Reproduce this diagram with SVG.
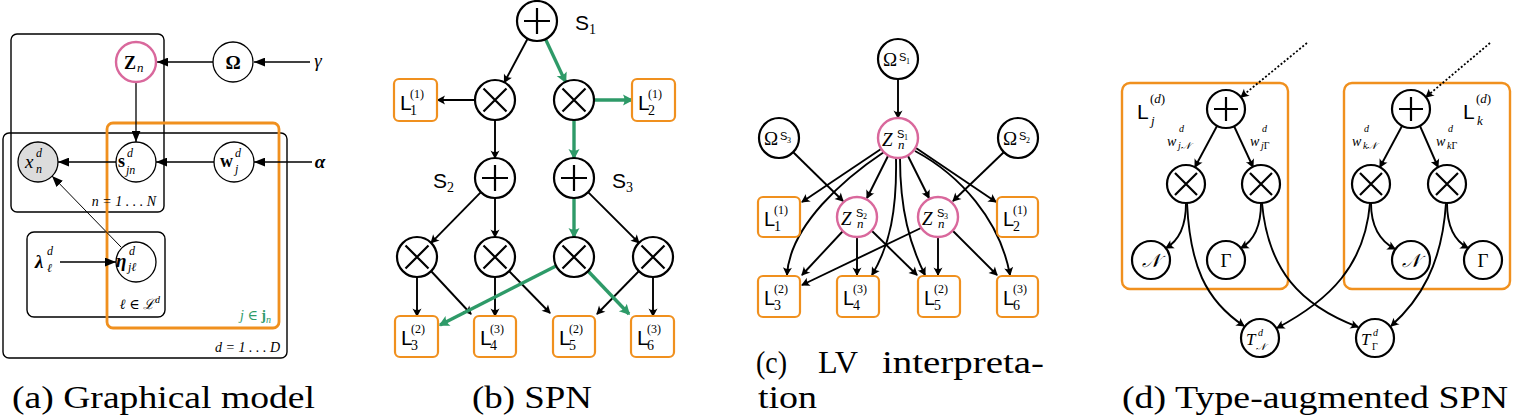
<svg xmlns="http://www.w3.org/2000/svg" xmlns:xlink="http://www.w3.org/1999/xlink" width="1513" height="418" viewBox="0 0 1513 418">
<style>
.pl{fill:none;stroke:#000;stroke-width:1.4}
.ca{fill:#fff;stroke:#000;stroke-width:1.3}
.ea{fill:none;stroke:#000;stroke-width:1.3}
.nd{fill:#fff;stroke:#000;stroke-width:2.2}
.zp{fill:#fff;stroke:#d9689c;stroke-width:2.4}
.lf{fill:#fff;stroke:#f0901e;stroke-width:2.2}
.sym{stroke:#000;stroke-width:2.2;fill:none}
.eb{fill:none;stroke:#000;stroke-width:1.9}
.eg{fill:none;stroke:#2e9a68;stroke-width:3.4}
.it{font-style:italic}
.bd{font-weight:bold}
</style>
<defs>
<marker id="ta" viewBox="0 0 10 8" refX="10" refY="4" markerWidth="11" markerHeight="9" markerUnits="userSpaceOnUse" orient="auto"><path d="M0,0 L10,4 L0,8 z" fill="#000"/></marker>
<marker id="tb" viewBox="-10 -6 12 12" refX="0" refY="0" markerWidth="12" markerHeight="12" markerUnits="userSpaceOnUse" orient="auto"><path d="M1,0 L-7.5,-4.5 Q-4.5,0 -7.5,4.5 z" fill="#000"/></marker>
<marker id="tg" viewBox="-12 -7 14 14" refX="0" refY="0" markerWidth="14" markerHeight="14" markerUnits="userSpaceOnUse" orient="auto"><path d="M1.5,0 L-9,-5.5 Q-6,0 -9,5.5 z" fill="#2e9a68"/></marker>
<g id="sumSym"><circle r="20" class="nd"/><path class="sym" d="M-13,0 H13 M0,-13 V13"/></g>
<g id="prodSym"><circle r="20" class="nd"/><path class="sym" d="M-11.5,-11.5 L11.5,11.5 M11.5,-11.5 L-11.5,11.5"/></g>
<g id="sumSymD"><circle r="19" class="nd"/><path class="sym" d="M-12,0 H12 M0,-12 V12"/></g>
<g id="prodSymD"><circle r="19" class="nd"/><path class="sym" d="M-11,-11 L11,11 M11,-11 L-11,11"/></g>
</defs>

<g font-family="Liberation Serif, DejaVu Serif, serif">
<!-- ================= (a) Graphical model ================= -->
<g id="a-plates">
<rect class="pl" x="11" y="34" width="153" height="178" rx="6"/>
<rect class="pl" x="3" y="133" width="284" height="225" rx="6"/>
<rect class="pl" x="27" y="232" width="138" height="85" rx="7"/>
<rect x="107" y="123" width="172" height="205" rx="6" fill="none" stroke="#f0901e" stroke-width="2.8"/>
<text class="it" x="156" y="206" font-size="14" text-anchor="end">n = 1 . . . N</text>
<text class="it" x="160" y="309" font-size="14" text-anchor="end">ℓ ∈ ℒ<tspan font-size="10" dy="-6">d</tspan></text>
<text class="it" x="271" y="320" font-size="14" text-anchor="end" fill="#2e9a68">j ∈ <tspan font-weight="bold" font-style="normal">j</tspan><tspan font-size="10" dy="3">n</tspan></text>
<text class="it" x="280" y="352" font-size="14" text-anchor="end">d = 1 . . . D</text>
</g>
<g id="a-edges">
<line class="ea" x1="213" y1="62" x2="157" y2="62" marker-end="url(#ta)"/>
<line class="ea" x1="310" y1="62" x2="254" y2="62" marker-end="url(#ta)"/>
<line class="ea" x1="136" y1="82" x2="136" y2="142" marker-end="url(#ta)"/>
<line class="ea" x1="116" y1="162" x2="58" y2="162" marker-end="url(#ta)"/>
<line class="ea" x1="214" y1="162" x2="156" y2="162" marker-end="url(#ta)"/>
<line class="ea" x1="312" y1="162" x2="254" y2="162" marker-end="url(#ta)"/>
<line class="ea" x1="60" y1="262" x2="116" y2="262" marker-end="url(#ta)"/>
<line x1="121" y1="247" x2="52" y2="176" stroke="#000" stroke-width="1" marker-end="url(#ta)"/>
</g>
<g id="a-Zn"><circle cx="136" cy="62" r="20" class="zp"/><text class="bd" x="124" y="69" font-size="18">Z</text><text class="it" x="137" y="72" font-size="13">n</text></g>
<g id="a-Omega"><circle cx="233" cy="62" r="20" class="ca"/><text class="bd" x="233" y="69" font-size="19" text-anchor="middle">Ω</text></g>
<g id="a-gamma"><text class="it" x="318" y="67" font-size="19" text-anchor="middle">γ</text></g>
<g id="a-xn"><circle cx="38" cy="162" r="20" fill="#dcdcdc" stroke="#000" stroke-width="1.3"/><text class="it" x="25" y="168" font-size="19">x</text><text class="it" x="36" y="157" font-size="12">d</text><text class="it" x="36" y="173" font-size="12">n</text></g>
<g id="a-s"><circle cx="136" cy="162" r="20" class="ca"/><text class="bd" x="118" y="167" font-size="18">s</text><text class="it" x="127" y="157" font-size="12">d</text><text class="it" x="126" y="174" font-size="12">jn</text></g>
<g id="a-w"><circle cx="234" cy="162" r="20" class="ca"/><text class="bd" x="220" y="167" font-size="18">w</text><text class="it" x="235" y="157" font-size="12">d</text><text class="it" x="235" y="173" font-size="12">j</text></g>
<g id="a-alpha"><text class="bd it" x="320" y="168" font-size="19" text-anchor="middle">α</text></g>
<g id="a-eta"><circle cx="136" cy="262" r="20" class="ca"/><text class="bd it" x="116" y="267" font-size="19">η</text><text class="it" x="129" y="255" font-size="12">d</text><text class="it" x="128" y="271" font-size="12">jℓ</text></g>
<g id="a-lambda"><text class="bd it" x="35" y="268" font-size="19">λ</text><text class="it" x="47" y="255" font-size="12">d</text><text class="it" x="47" y="272" font-size="12">ℓ</text></g>
<text x="12" y="408" font-size="32" textLength="303" lengthAdjust="spacingAndGlyphs">(a) Graphical model</text>

<!-- ================= (b) SPN ================= -->
<g id="b-edges">
<line class="eb" x1="527.6" y1="38.7" x2="504.4" y2="82.3" marker-end="url(#tb)"/>
<line class="eb" x1="475" y1="100" x2="437.5" y2="100" marker-end="url(#tb)"/>
<line class="eb" x1="495" y1="120" x2="495" y2="158" marker-end="url(#tb)"/>
<line class="eb" x1="480.9" y1="192.2" x2="431.1" y2="242.8" marker-end="url(#tb)"/>
<line class="eb" x1="495" y1="198" x2="495" y2="237" marker-end="url(#tb)"/>
<line class="eb" x1="588.1" y1="192.2" x2="638.9" y2="242.8" marker-end="url(#tb)"/>
<line class="eb" x1="417" y1="277" x2="417" y2="316" marker-end="url(#tb)"/>
<line class="eb" x1="431" y1="271" x2="471" y2="314" marker-end="url(#tb)"/>
<line class="eb" x1="495" y1="277" x2="495" y2="316" marker-end="url(#tb)"/>
<line class="eb" x1="509" y1="271" x2="550" y2="313" marker-end="url(#tb)"/>
<line class="eb" x1="639" y1="271" x2="597" y2="314" marker-end="url(#tb)"/>
<line class="eb" x1="653" y1="277" x2="653" y2="316" marker-end="url(#tb)"/>
<line class="eg" x1="545.5" y1="39.1" x2="565.5" y2="81.9" marker-end="url(#tg)"/>
<line class="eg" x1="594" y1="100" x2="632" y2="100" marker-end="url(#tg)"/>
<line class="eg" x1="574" y1="120" x2="574" y2="158" marker-end="url(#tg)"/>
<line class="eg" x1="574" y1="198" x2="574" y2="237" marker-end="url(#tg)"/>
<line class="eg" x1="556" y1="266" x2="440" y2="325" marker-end="url(#tg)"/>
<line class="eg" x1="588" y1="271" x2="629" y2="314" marker-end="url(#tg)"/>
</g>
<g id="b-S1"><use xlink:href="#sumSym" x="537" y="21"/><text font-family="Liberation Sans, DejaVu Sans, sans-serif" x="575" y="30" font-size="21">S</text><text x="589" y="34" font-size="14">1</text></g>
<g id="b-P1"><use xlink:href="#prodSym" x="495" y="100"/></g>
<g id="b-P2"><use xlink:href="#prodSym" x="574" y="100"/></g>
<g id="b-S2"><use xlink:href="#sumSym" x="495" y="178"/><text font-family="Liberation Sans, DejaVu Sans, sans-serif" x="433" y="188" font-size="21">S</text><text x="447" y="192" font-size="14">2</text></g>
<g id="b-S3"><use xlink:href="#sumSym" x="574" y="178"/><text font-family="Liberation Sans, DejaVu Sans, sans-serif" x="612" y="188" font-size="21">S</text><text x="626" y="192" font-size="14">3</text></g>
<g id="b-Q1"><use xlink:href="#prodSym" x="417" y="257"/></g>
<g id="b-Q2"><use xlink:href="#prodSym" x="495" y="257"/></g>
<g id="b-Q3"><use xlink:href="#prodSym" x="574" y="257"/></g>
<g id="b-Q4"><use xlink:href="#prodSym" x="653" y="257"/></g>
<g id="b-L1"><rect class="lf" x="394" y="79" width="43" height="42" rx="5"/><text font-family="Liberation Sans, DejaVu Sans, sans-serif" x="400" y="110" font-size="21">L</text><text x="410" y="115" font-size="14">1</text><text x="410" y="98" font-size="12">(1)</text></g>
<g id="b-L2"><rect class="lf" x="632" y="79" width="43" height="42" rx="5"/><text font-family="Liberation Sans, DejaVu Sans, sans-serif" x="638" y="110" font-size="21">L</text><text x="648" y="115" font-size="14">2</text><text x="648" y="98" font-size="12">(1)</text></g>
<g id="b-L3"><rect class="lf" x="395" y="316" width="43" height="41" rx="5"/><text font-family="Liberation Sans, DejaVu Sans, sans-serif" x="401" y="345" font-size="21">L</text><text x="411" y="350" font-size="14">3</text><text x="411" y="333" font-size="12">(2)</text></g>
<g id="b-L4"><rect class="lf" x="474" y="316" width="42" height="41" rx="5"/><text font-family="Liberation Sans, DejaVu Sans, sans-serif" x="480" y="345" font-size="21">L</text><text x="490" y="350" font-size="14">4</text><text x="490" y="333" font-size="12">(3)</text></g>
<g id="b-L5"><rect class="lf" x="553" y="316" width="42" height="41" rx="5"/><text font-family="Liberation Sans, DejaVu Sans, sans-serif" x="559" y="345" font-size="21">L</text><text x="569" y="350" font-size="14">5</text><text x="569" y="333" font-size="12">(2)</text></g>
<g id="b-L6"><rect class="lf" x="631" y="316" width="43" height="41" rx="5"/><text font-family="Liberation Sans, DejaVu Sans, sans-serif" x="637" y="345" font-size="21">L</text><text x="647" y="350" font-size="14">6</text><text x="647" y="333" font-size="12">(3)</text></g>
<text x="472" y="408" font-size="32" textLength="120" lengthAdjust="spacingAndGlyphs">(b) SPN</text>

<!-- ================= (c) LV interpretation ================= -->
<g id="c-edges">
<line class="eb" x1="898" y1="79" x2="898" y2="118" marker-end="url(#tb)"/>
<line class="eb" x1="793" y1="152" x2="843" y2="201" marker-end="url(#tb)"/>
<line class="eb" x1="1004" y1="152" x2="953" y2="201" marker-end="url(#tb)"/>
<line class="eb" x1="881" y1="149" x2="802" y2="202" marker-end="url(#tb)"/>
<path class="eb" d="M884,152 C845,178 790,225 787,275" marker-end="url(#tb)"/>
<line class="eb" x1="888" y1="156" x2="867" y2="198" marker-end="url(#tb)"/>
<path class="eb" d="M896,158 C897,210 890,245 872,275" marker-end="url(#tb)"/>
<path class="eb" d="M900,158 C900,210 910,245 925,275" marker-end="url(#tb)"/>
<line class="eb" x1="908" y1="156" x2="929" y2="198" marker-end="url(#tb)"/>
<line class="eb" x1="916" y1="148" x2="996" y2="202" marker-end="url(#tb)"/>
<path class="eb" d="M915,151 C960,175 1000,220 1010,275" marker-end="url(#tb)"/>
<line class="eb" x1="843" y1="231" x2="802" y2="275" marker-end="url(#tb)"/>
<line class="eb" x1="857" y1="237" x2="857" y2="275" marker-end="url(#tb)"/>
<line class="eb" x1="872" y1="231" x2="917" y2="275" marker-end="url(#tb)"/>
<line class="eb" x1="921" y1="228" x2="802" y2="285" marker-end="url(#tb)"/>
<line class="eb" x1="938" y1="237" x2="938" y2="275" marker-end="url(#tb)"/>
<line class="eb" x1="953" y1="231" x2="997" y2="275" marker-end="url(#tb)"/>
</g>
<g id="c-OmS1"><circle cx="898" cy="59" r="20" class="nd"/><text x="883" y="66" font-size="19">Ω</text><text font-family="Liberation Sans, DejaVu Sans, sans-serif" x="899" y="61" font-size="11">S</text><text x="906" y="64" font-size="8">1</text></g>
<g id="c-OmS3"><circle cx="779" cy="138" r="20" class="nd"/><text x="764" y="145" font-size="19">Ω</text><text font-family="Liberation Sans, DejaVu Sans, sans-serif" x="780" y="140" font-size="11">S</text><text x="787" y="143" font-size="8">3</text></g>
<g id="c-OmS2"><circle cx="1018" cy="138" r="20" class="nd"/><text x="1003" y="145" font-size="19">Ω</text><text font-family="Liberation Sans, DejaVu Sans, sans-serif" x="1019" y="140" font-size="11">S</text><text x="1026" y="143" font-size="8">2</text></g>
<g id="c-ZS1"><circle cx="898" cy="138" r="20" class="zp"/><text class="it" x="882" y="146" font-size="19">Z</text><text font-family="Liberation Sans, DejaVu Sans, sans-serif" x="897" y="138" font-size="11">S</text><text x="904" y="140" font-size="8">1</text><text class="it" x="898" y="149" font-size="13">n</text></g>
<g id="c-ZS2"><circle cx="857" cy="217" r="20" class="zp"/><text class="it" x="841" y="225" font-size="19">Z</text><text font-family="Liberation Sans, DejaVu Sans, sans-serif" x="856" y="217" font-size="11">S</text><text x="863" y="219" font-size="8">2</text><text class="it" x="857" y="228" font-size="13">n</text></g>
<g id="c-ZS3"><circle cx="938" cy="217" r="20" class="zp"/><text class="it" x="922" y="225" font-size="19">Z</text><text font-family="Liberation Sans, DejaVu Sans, sans-serif" x="937" y="217" font-size="11">S</text><text x="944" y="219" font-size="8">3</text><text class="it" x="938" y="228" font-size="13">n</text></g>
<g id="c-L1"><rect class="lf" x="758" y="197" width="42" height="40" rx="5"/><text font-family="Liberation Sans, DejaVu Sans, sans-serif" x="764" y="226" font-size="20">L</text><text x="774" y="231" font-size="14">1</text><text x="774" y="214" font-size="12">(1)</text></g>
<g id="c-L2"><rect class="lf" x="997" y="197" width="41" height="40" rx="5"/><text font-family="Liberation Sans, DejaVu Sans, sans-serif" x="1003" y="226" font-size="20">L</text><text x="1013" y="231" font-size="14">2</text><text x="1013" y="214" font-size="12">(1)</text></g>
<g id="c-L3"><rect class="lf" x="758" y="276" width="42" height="41" rx="5"/><text font-family="Liberation Sans, DejaVu Sans, sans-serif" x="764" y="305" font-size="20">L</text><text x="774" y="310" font-size="14">3</text><text x="774" y="293" font-size="12">(2)</text></g>
<g id="c-L4"><rect class="lf" x="837" y="276" width="42" height="41" rx="5"/><text font-family="Liberation Sans, DejaVu Sans, sans-serif" x="843" y="305" font-size="20">L</text><text x="853" y="310" font-size="14">4</text><text x="853" y="293" font-size="12">(3)</text></g>
<g id="c-L5"><rect class="lf" x="918" y="276" width="42" height="41" rx="5"/><text font-family="Liberation Sans, DejaVu Sans, sans-serif" x="924" y="305" font-size="20">L</text><text x="934" y="310" font-size="14">5</text><text x="934" y="293" font-size="12">(2)</text></g>
<g id="c-L6"><rect class="lf" x="997" y="276" width="41" height="41" rx="5"/><text font-family="Liberation Sans, DejaVu Sans, sans-serif" x="1003" y="305" font-size="20">L</text><text x="1013" y="310" font-size="14">6</text><text x="1013" y="293" font-size="12">(3)</text></g>
<text x="756" y="373" font-size="32" textLength="31" lengthAdjust="spacingAndGlyphs">(c)</text>
<text x="818" y="373" font-size="32" textLength="40" lengthAdjust="spacingAndGlyphs">LV</text>
<text x="882" y="373" font-size="32" textLength="162" lengthAdjust="spacingAndGlyphs">interpreta-</text>
<text x="758" y="408" font-size="32" textLength="59" lengthAdjust="spacingAndGlyphs">tion</text>

<!-- ================= (d) Type-augmented SPN ================= -->
<g id="d-boxes">
<rect x="1122" y="83" width="166" height="206" rx="8" fill="none" stroke="#f0901e" stroke-width="2.4"/>
<rect x="1344" y="83" width="166" height="206" rx="8" fill="none" stroke="#f0901e" stroke-width="2.4"/>
</g>
<g id="d-edges">
<line x1="1307" y1="43" x2="1241" y2="97" stroke="#000" stroke-width="1.8" stroke-dasharray="2,2" marker-end="url(#tb)"/>
<line x1="1490" y1="43" x2="1426" y2="97" stroke="#000" stroke-width="1.8" stroke-dasharray="2,2" marker-end="url(#tb)"/>
<line class="eb" x1="1217" y1="126" x2="1195" y2="167" marker-end="url(#tb)"/>
<line class="eb" x1="1234" y1="126" x2="1253" y2="167" marker-end="url(#tb)"/>
<path class="eb" d="M1186,203 C1186,225 1180,240 1166,248" marker-end="url(#tb)"/>
<path class="eb" d="M1261,203 C1261,225 1255,240 1241,248" marker-end="url(#tb)"/>
<path class="eb" d="M1187,203 C1190,265 1205,300 1244,326" marker-end="url(#tb)"/>
<path class="eb" d="M1262,203 C1268,270 1300,305 1358,327" marker-end="url(#tb)"/>
<line class="eb" x1="1402" y1="126" x2="1380" y2="167" marker-end="url(#tb)"/>
<line class="eb" x1="1420" y1="126" x2="1438" y2="167" marker-end="url(#tb)"/>
<path class="eb" d="M1371,203 C1371,225 1378,240 1395,249" marker-end="url(#tb)"/>
<path class="eb" d="M1447,203 C1447,225 1453,240 1468,248" marker-end="url(#tb)"/>
<path class="eb" d="M1370,203 C1365,265 1330,300 1277,328" marker-end="url(#tb)"/>
<path class="eb" d="M1446,203 C1442,265 1420,300 1391,326" marker-end="url(#tb)"/>
</g>
<g id="d-Lj"><text font-family="Liberation Sans, DejaVu Sans, sans-serif" x="1137" y="119" font-size="21">L</text><text class="it" x="1150" y="103" font-size="13"><tspan font-style="normal">(</tspan>d<tspan font-style="normal">)</tspan></text><text class="it" x="1151" y="125" font-size="13">j</text></g>
<g id="d-Lk"><text font-family="Liberation Sans, DejaVu Sans, sans-serif" x="1463" y="119" font-size="21">L</text><text class="it" x="1476" y="103" font-size="13"><tspan font-style="normal">(</tspan>d<tspan font-style="normal">)</tspan></text><text class="it" x="1477" y="125" font-size="13">k</text></g>
<g id="d-wjN"><text class="it" x="1167" y="146" font-size="14">w</text><text class="it" x="1179" y="132" font-size="10">d</text><text class="it" x="1178" y="149" font-size="10">j𝒩</text></g>
<g id="d-wjG"><text class="it" x="1250" y="146" font-size="14">w</text><text class="it" x="1262" y="132" font-size="10">d</text><text class="it" x="1261" y="149" font-size="10">j<tspan font-style="normal">Γ</tspan></text></g>
<g id="d-wkN"><text class="it" x="1352" y="146" font-size="14">w</text><text class="it" x="1364" y="132" font-size="10">d</text><text class="it" x="1363" y="149" font-size="10">k𝒩</text></g>
<g id="d-wkG"><text class="it" x="1436" y="146" font-size="14">w</text><text class="it" x="1448" y="132" font-size="10">d</text><text class="it" x="1447" y="149" font-size="10">k<tspan font-style="normal">Γ</tspan></text></g>
<g id="d-sumj"><use xlink:href="#sumSymD" x="1226" y="109"/></g>
<g id="d-pjN"><use xlink:href="#prodSymD" x="1186" y="184"/></g>
<g id="d-pjG"><use xlink:href="#prodSymD" x="1261" y="184"/></g>
<g id="d-Nj"><circle cx="1151" cy="260" r="19" class="nd"/><text class="it" x="1151" y="267" font-size="19" text-anchor="middle">𝒩</text></g>
<g id="d-Gj"><circle cx="1226" cy="260" r="19" class="nd"/><text x="1226" y="267" font-size="19" text-anchor="middle">Γ</text></g>
<g id="d-sumk"><use xlink:href="#sumSymD" x="1411" y="109"/></g>
<g id="d-pkN"><use xlink:href="#prodSymD" x="1371" y="184"/></g>
<g id="d-pkG"><use xlink:href="#prodSymD" x="1447" y="184"/></g>
<g id="d-Nk"><circle cx="1411" cy="260" r="19" class="nd"/><text class="it" x="1411" y="267" font-size="19" text-anchor="middle">𝒩</text></g>
<g id="d-Gk"><circle cx="1483" cy="260" r="19" class="nd"/><text x="1483" y="267" font-size="19" text-anchor="middle">Γ</text></g>
<g id="d-TN"><circle cx="1260" cy="338" r="19" class="nd"/><text class="it" x="1246" y="345" font-size="17">T</text><text class="it" x="1258" y="336" font-size="10">d</text><text class="it" x="1256" y="350" font-size="10">𝒩</text></g>
<g id="d-TG"><circle cx="1375" cy="338" r="19" class="nd"/><text class="it" x="1361" y="345" font-size="17">T</text><text class="it" x="1373" y="336" font-size="10">d</text><text x="1372" y="350" font-size="10">Γ</text></g>
<text x="1122" y="408" font-size="32" textLength="386" lengthAdjust="spacingAndGlyphs">(d) Type-augmented SPN</text>
</g>
</svg>
